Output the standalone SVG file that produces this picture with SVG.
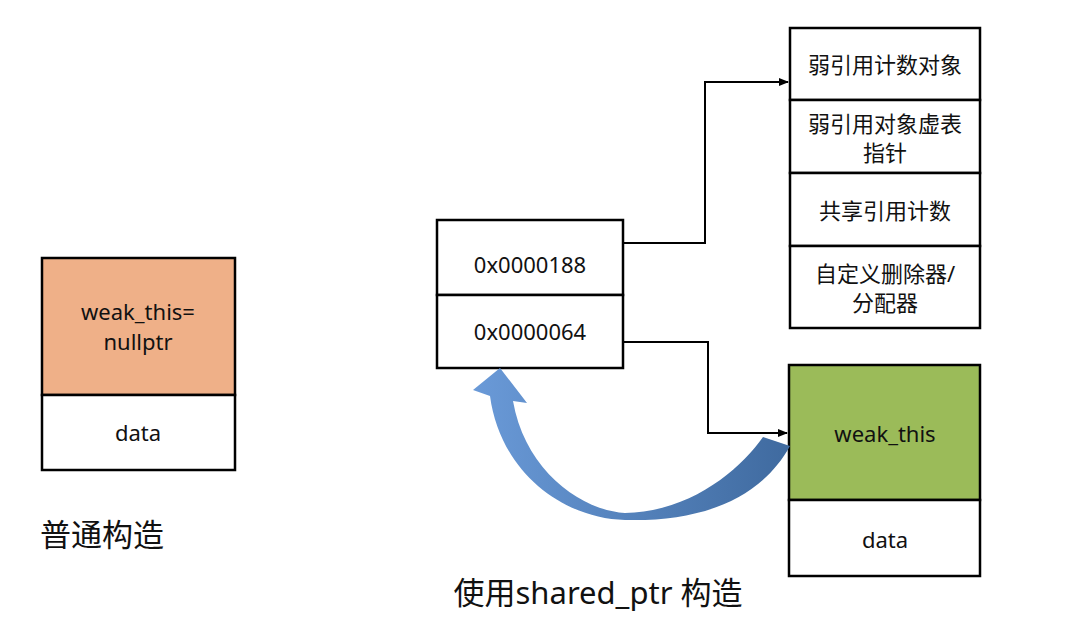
<svg xmlns="http://www.w3.org/2000/svg" width="1068" height="636" viewBox="0 0 1068 636">
<style>
.b{stroke:#000;stroke-width:2.5;fill:#fff}
.t{font-family:"Noto Sans","Noto Sans CJK SC",sans-serif;font-size:22px;text-anchor:middle;fill:#111}
.c{stroke:#000;stroke-width:2;fill:none}
</style>
<defs>
<marker id="a" markerWidth="10" markerHeight="8" refX="9" refY="4" orient="auto" markerUnits="userSpaceOnUse"><path d="M0,0L10,4L0,8Z" fill="#000"/></marker>
<linearGradient id="g" x1="0" y1="0" x2="1" y2="0"><stop offset="0" stop-color="#6a9ad8"/><stop offset="1" stop-color="#3f6a9f"/></linearGradient>
</defs>
<rect width="1068" height="636" fill="#fff"/>
<g id="normal">
<rect class="b" x="42" y="258" width="193" height="137" style="fill:#efb088"/>
<rect class="b" x="42" y="395" width="193" height="75"/>
<text class="t" x="138" y="320">weak_this=</text>
<text class="t" x="138" y="350">nullptr</text>
<text class="t" x="138" y="441">data</text>
<text class="t" x="40" y="546" style="text-anchor:start;font-size:31px">普通构造</text>
</g>
<g id="ptr">
<rect class="b" x="437" y="220" width="186" height="75"/>
<rect class="b" x="437" y="295" width="186" height="73"/>
<text class="t" x="530" y="273">0x0000188</text>
<text class="t" x="530" y="340">0x0000064</text>
</g>
<g id="ctrl">
<rect class="b" x="790" y="28" width="190" height="72"/>
<rect class="b" x="790" y="100" width="190" height="73"/>
<rect class="b" x="790" y="173" width="190" height="73"/>
<rect class="b" x="790" y="246" width="190" height="82"/>
<text class="t" x="885" y="73">弱引用计数对象</text>
<text class="t" x="885" y="132">弱引用对象虚表</text>
<text class="t" x="885" y="161">指针</text>
<text class="t" x="885" y="219">共享引用计数</text>
<text class="t" x="885" y="282">自定义删除器/</text>
<text class="t" x="885" y="311">分配器</text>
</g>
<g id="obj">
<rect class="b" x="789" y="365" width="191" height="135" style="fill:#9bbb59"/>
<rect class="b" x="789" y="500" width="191" height="76"/>
<text class="t" x="885" y="442">weak_this</text>
<text class="t" x="885" y="548">data</text>
</g>
<text class="t" x="598" y="604" style="font-size:31px">使用shared_ptr 构造</text>
<g id="connectors">
<path class="c" d="M623,243H705V82H788" marker-end="url(#a)"/>
<path class="c" d="M623,342H708V433H787" marker-end="url(#a)"/>
<path d="M500,368L527,403L513,401C525,470 580,510 625,513C690,512 740,470 763,437L790,446C760,500 700,522 625,520C560,518 500,470 490,396L473,390Z" fill="url(#g)"/>
</g>
</svg>
